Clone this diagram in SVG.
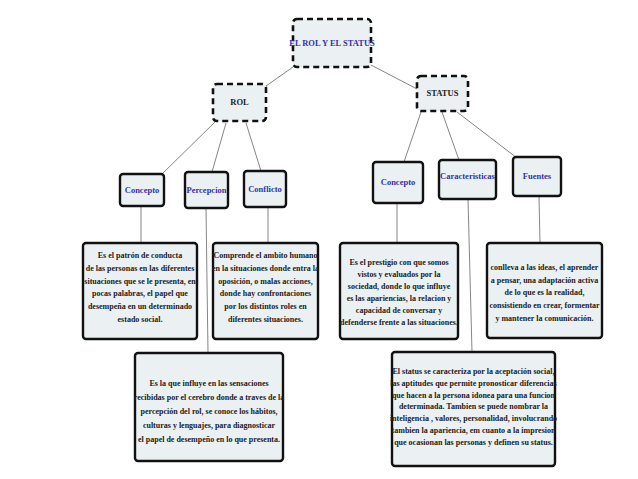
<svg xmlns="http://www.w3.org/2000/svg" width="638" height="479" viewBox="0 0 638 479">
<style>
.d{fill:#ebf0f3;stroke:#111;stroke-width:2.6;stroke-dasharray:6,4}
.s{fill:#ebf0f3;stroke:#111;stroke-width:2.4}
.t{font-family:"Liberation Serif",serif;font-weight:bold;font-size:8px;fill:#222;text-anchor:middle}
.b{font-family:"Liberation Serif",serif;font-weight:bold;font-size:8.5px;fill:#3333aa;text-anchor:middle}
.k{font-family:"Liberation Serif",serif;font-weight:bold;font-size:8.5px;fill:#222;text-anchor:middle}
#c line{stroke:#777;stroke-width:0.9}
</style>
<rect width="638" height="479" fill="#fff"/>
<g id="c">
<line x1="293" y1="67" x2="266" y2="86"/>
<line x1="371" y1="65" x2="417" y2="89"/>
<line x1="215" y1="122" x2="162" y2="174"/>
<line x1="226" y1="123" x2="212" y2="172"/>
<line x1="246" y1="123" x2="261" y2="171"/>
<line x1="421" y1="112" x2="404" y2="162"/>
<line x1="442" y1="112" x2="459" y2="160"/>
<line x1="457" y1="112" x2="517" y2="158"/>
<line x1="141" y1="206" x2="141" y2="243"/>
<line x1="206" y1="208" x2="208" y2="353"/>
<line x1="268" y1="207" x2="268" y2="243"/>
<line x1="397" y1="203" x2="397" y2="243"/>
<line x1="468" y1="199" x2="472" y2="352"/>
<line x1="539" y1="196" x2="540" y2="243"/>
</g>
<g id="root"><rect class="d" x="293" y="19" width="78" height="48" rx="4"/><text class="b" x="332" y="46">EL ROL Y EL STATUS</text></g>
<g id="rol"><rect class="d" x="213" y="84" width="53" height="37" rx="4"/><text class="k" x="239.5" y="105">ROL</text></g>
<g id="status"><rect class="d" x="417" y="76" width="51" height="35" rx="4"/><text class="k" x="442.5" y="96">STATUS</text></g>
<g id="n1"><rect class="s" x="120" y="174" width="44" height="32" rx="3"/><text class="b" x="142" y="193">Concepto</text></g>
<g id="n2"><rect class="s" x="185" y="172" width="43" height="36" rx="3"/><text class="b" x="206.5" y="193">Percepcion</text></g>
<g id="n3"><rect class="s" x="244" y="171" width="42" height="36" rx="3"/><text class="b" x="265" y="192">Conflicto</text></g>
<g id="n4"><rect class="s" x="373" y="162" width="50" height="41" rx="3"/><text class="b" x="398" y="185">Concepto</text></g>
<g id="n5"><rect class="s" x="439" y="160" width="57" height="39" rx="3"/><text class="b" x="467.5" y="179">Caracteristicas</text></g>
<g id="n6"><rect class="s" x="513" y="157" width="48" height="39" rx="3"/><text class="b" x="537" y="179">Fuentes</text></g>
<g id="b1"><rect class="s" x="83" y="243" width="114" height="96" rx="3"/>
<text class="t" x="140" y="258">Es el patrón de conducta</text>
<text class="t" x="140" y="270.8">de las personas en las diferentes</text>
<text class="t" x="140" y="283.6">situaciones que se le presenta, en</text>
<text class="t" x="140" y="296.4">pocas palabras, el papel que</text>
<text class="t" x="140" y="309.2">desempeña en un determinado</text>
<text class="t" x="140" y="322">estado social.</text></g>
<g id="b2"><rect class="s" x="213" y="243" width="105" height="96" rx="3"/>
<text class="t" x="265.5" y="258">Comprende el ambito humano</text>
<text class="t" x="265.5" y="270.8">en la situaciones donde entra la</text>
<text class="t" x="265.5" y="283.6">oposición, o malas acciones,</text>
<text class="t" x="265.5" y="296.4">donde hay confrontaciones</text>
<text class="t" x="265.5" y="309.2">por los distintos roles en</text>
<text class="t" x="265.5" y="322">diferentes situaciones.</text></g>
<g id="b3"><rect class="s" x="340" y="243" width="118" height="96" rx="3"/>
<text class="t" x="399" y="265">Es el prestigio con que somos</text>
<text class="t" x="399" y="277">vistos y evaluados por la</text>
<text class="t" x="399" y="289">sociedad, donde lo que influye</text>
<text class="t" x="399" y="301">es las apariencias, la relacion y</text>
<text class="t" x="399" y="313">capacidad de conversar y</text>
<text class="t" x="399" y="325">defenderse frente a las situaciones.</text></g>
<g id="b4"><rect class="s" x="487" y="243" width="115" height="95" rx="3"/>
<text class="t" x="544.5" y="270">conlleva a las ideas, el aprender</text>
<text class="t" x="544.5" y="282.7">a pensar, una adaptación activa</text>
<text class="t" x="544.5" y="295.4">de lo que es la realidad,</text>
<text class="t" x="544.5" y="308.1">consistiendo en crear, formentar</text>
<text class="t" x="544.5" y="320.8">y mantener la comunicación.</text></g>
<g id="b5"><rect class="s" x="135" y="353" width="148" height="108" rx="3"/>
<text class="t" x="209" y="386">Es la que influye en las sensaciones</text>
<text class="t" x="209" y="400">recibidas por el cerebro donde a traves de la</text>
<text class="t" x="209" y="414">percepción del rol, se conoce los hábitos,</text>
<text class="t" x="209" y="428">culturas y lenguajes, para diagnosticar</text>
<text class="t" x="209" y="442">el papel de desempeño en lo que presenta.</text></g>
<g id="b6"><rect class="s" x="392" y="352" width="163" height="114" rx="3"/>
<text class="t" x="473.5" y="374">El status se caracteriza por la aceptación social,</text>
<text class="t" x="473.5" y="385.8">las aptitudes que permite pronosticar diferencias</text>
<text class="t" x="473.5" y="397.6">que hacen a la persona idonea para una funcion</text>
<text class="t" x="473.5" y="409.4">determinada. Tambien se puede nombrar la</text>
<text class="t" x="473.5" y="421.2">inteligencia , valores, personalidad, involucrando</text>
<text class="t" x="473.5" y="433">tambien la apariencia, em cuanto a la impresion</text>
<text class="t" x="473.5" y="444.8">que ocasionan las personas y definen su status.</text></g>
</svg>
